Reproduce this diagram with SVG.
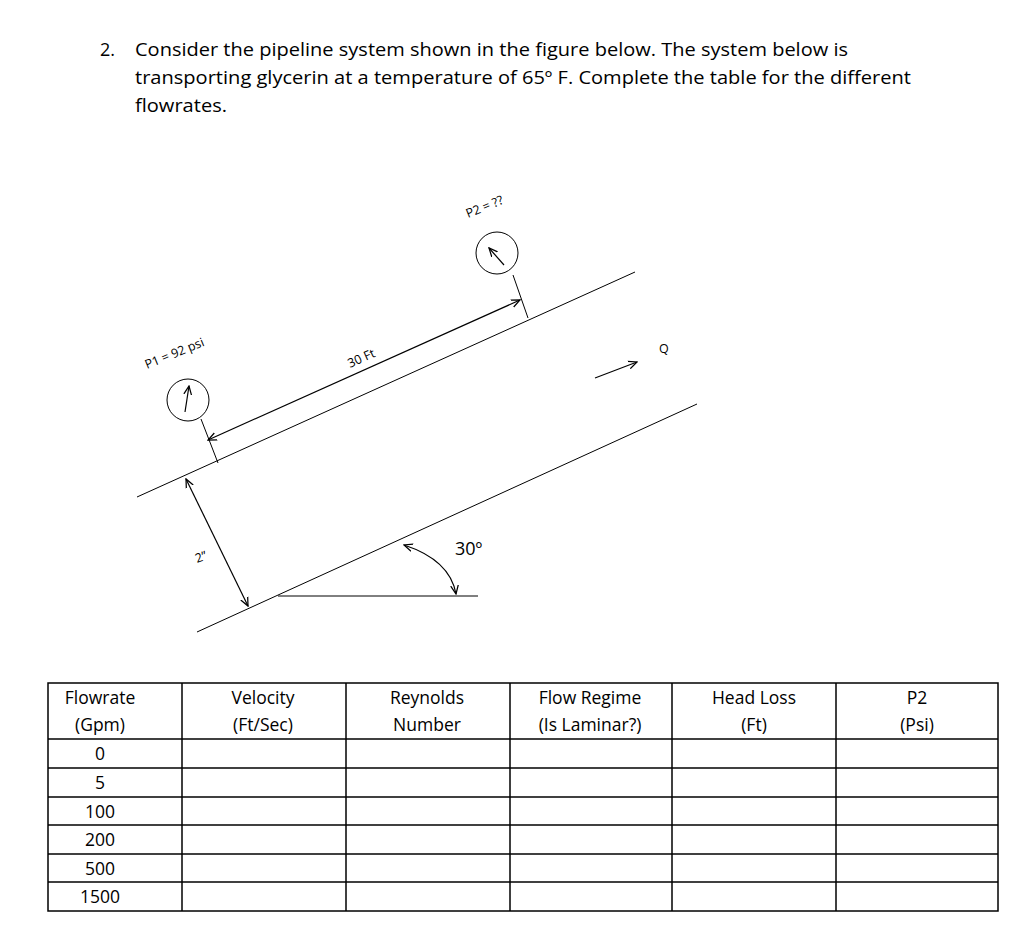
<svg xmlns="http://www.w3.org/2000/svg" width="1024" height="929" viewBox="0 0 1024 929">
<style>
text{font-family:"Open Sans","Liberation Sans",sans-serif;fill:#000}
.t{font-size:18px}
.c{font-size:17.5px;text-anchor:middle}
.s{font-size:12.5px}
.l{stroke:#000;stroke-width:1;fill:none}
.g{stroke:#000;stroke-width:1.2;fill:none}
</style>
<defs>
<marker id="a" viewBox="0 0 10 10" refX="9" refY="5" markerWidth="8" markerHeight="8" orient="auto-start-reverse"><path d="M0,1 L9,5 L0,9" fill="none" stroke="#000" stroke-width="1.3"/></marker>
</defs>
<rect width="1024" height="929" fill="#fff"/>
<text class="t" x="100" y="56">2.</text>
<text class="t" x="135" y="56" textLength="713" lengthAdjust="spacingAndGlyphs">Consider the pipeline system shown in the figure below.  The system below is</text>
<text class="t" x="135" y="84" textLength="776" lengthAdjust="spacingAndGlyphs">transporting glycerin at a temperature of 65º F.  Complete the table for the different</text>
<text class="t" x="135" y="112" textLength="92" lengthAdjust="spacingAndGlyphs">flowrates.</text>

<g id="pipe">
<line class="l" x1="137" y1="497" x2="635" y2="272"/>
<line class="l" x1="197" y1="632" x2="697" y2="404"/>
<line class="l" x1="278" y1="596" x2="478" y2="596"/>
</g>
<g id="gauge1">
<circle class="l" cx="188" cy="400" r="21"/>
<line class="g" x1="185" y1="412" x2="189" y2="386" marker-end="url(#a)"/>
<line class="l" x1="201" y1="419" x2="218" y2="463"/>
<text class="s" transform="translate(147,369) rotate(-22)">P1 = 92 psi</text>
</g>
<g id="gauge2">
<circle class="l" cx="497" cy="253" r="21"/>
<line class="g" x1="504" y1="265" x2="489" y2="248" marker-end="url(#a)"/>
<line class="l" x1="513" y1="275" x2="528" y2="318"/>
<text class="s" transform="translate(468,218) rotate(-22)">P2 = ??</text>
</g>
<g id="connectors">
<line class="g" x1="208" y1="440" x2="520" y2="300" marker-start="url(#a)" marker-end="url(#a)"/>
<text class="s" transform="translate(350,368) rotate(-24)">30 Ft</text>
<line class="g" x1="595" y1="378" x2="637" y2="362" marker-end="url(#a)"/>
<text class="s" x="659" y="353">Q</text>
<line class="g" x1="186" y1="479" x2="248" y2="606" marker-start="url(#a)" marker-end="url(#a)"/>
<text class="s" transform="translate(197,563) rotate(-20)">2”</text>
<path class="g" d="M404,545 Q450,560 456,594" marker-start="url(#a)" marker-end="url(#a)"/>
<text class="t" x="455" y="555">30º</text>
</g>

<g id="table">
<rect x="48" y="683" width="950" height="228" fill="none" stroke="#000" stroke-width="1.5"/>
<g stroke="#000" stroke-width="1.5">
<line x1="182" y1="683" x2="182" y2="911"/>
<line x1="346" y1="683" x2="346" y2="911"/>
<line x1="510" y1="683" x2="510" y2="911"/>
<line x1="672" y1="683" x2="672" y2="911"/>
<line x1="836" y1="683" x2="836" y2="911"/>
<line x1="48" y1="739" x2="998" y2="739"/>
<line x1="48" y1="768" x2="998" y2="768"/>
<line x1="48" y1="797" x2="998" y2="797"/>
<line x1="48" y1="825" x2="998" y2="825"/>
<line x1="48" y1="854" x2="998" y2="854"/>
<line x1="48" y1="882" x2="998" y2="882"/>
</g>
<text class="c" x="100" y="704">Flowrate</text><text class="c" x="100" y="731">(Gpm)</text>
<text class="c" x="263" y="704">Velocity</text><text class="c" x="263" y="731">(Ft/Sec)</text>
<text class="c" x="427" y="704">Reynolds</text><text class="c" x="427" y="731">Number</text>
<text class="c" x="590" y="704">Flow Regime</text><text class="c" x="590" y="731">(Is Laminar?)</text>
<text class="c" x="754" y="704">Head Loss</text><text class="c" x="754" y="731">(Ft)</text>
<text class="c" x="917" y="704">P2</text><text class="c" x="917" y="731">(Psi)</text>
<text class="c" x="100" y="760">0</text>
<text class="c" x="100" y="789">5</text>
<text class="c" x="100" y="818">100</text>
<text class="c" x="100" y="846">200</text>
<text class="c" x="100" y="875">500</text>
<text class="c" x="100" y="903">1500</text>
</g>
</svg>
